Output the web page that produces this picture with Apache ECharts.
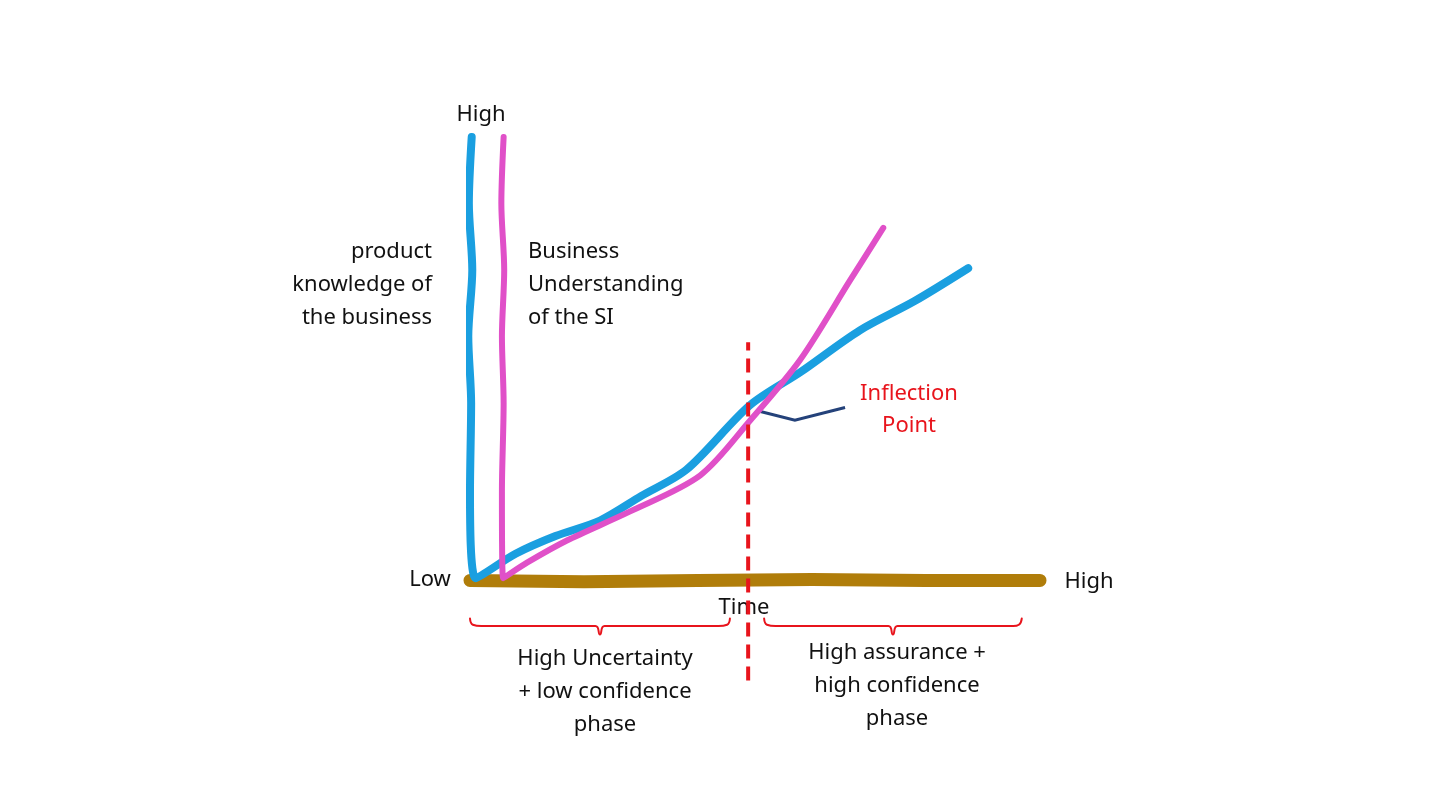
<!DOCTYPE html>
<html><head><meta charset="utf-8">
<script src="https://cdn.jsdelivr.net/npm/echarts@6/dist/echarts.min.js"></script>
<style>html,body{margin:0;background:#fff}#c{width:1440px;height:800px}</style>
</head><body><div id="c"></div>
<script>
// data coordinates: x = time (0..100), y = level (0..100)
const blueX = [0.3, -0.2, 0.4, -0.3, 0.2, 0, 1, 8, 15, 22.8, 30, 38, 49.1, 58, 68.4, 78, 87.4];
const blueY = [100, 85, 70, 55, 40, 20, 0.5, 6, 10, 13.5, 19, 25, 39.5, 47, 56.4, 63, 70.4];
const pinkX = [5.9, 5.5, 6.0, 5.6, 5.9, 5.6, 5.8, 10, 17, 28, 40.4, 49.1, 57.9, 66.7, 72.5];
const pinkY = [100, 85, 70, 55, 40, 20, 0.5, 4, 9, 15.5, 23.7, 36, 49.7, 67.7, 79.5];
const baseX = [0, 20, 40, 60, 80, 100];
const baseY = [0, -0.3, 0, 0.2, 0, 0];
const dashX = [48.8, 48.8];
const dashY = [-22.6, 53.7];
const braceLX = [0, 0.5, 2, 22, 22.8, 23.6, 43.6, 45.1, 45.6];
const braceLY = [-8.6, -10, -10.3, -10.3, -12.2, -10.3, -10.3, -10, -8.6];
const braceRX = [51.6, 52.1, 53.6, 73.4, 74.2, 75, 95.3, 96.3, 96.8];
const braceRY = braceLY;
const arrowPts = [[65.8, 39], [57.0, 36.1], [50.6, 38.2]];

const pair = (xs, ys) => xs.map((x, i) => [x, ys[i]]);
const hand = 'Comic Sans MS, "Noto Sans", sans-serif';
const line = (data, color, width, extra) => Object.assign({
  type: 'line', data, showSymbol: false, smooth: 0.3, silent: true,
  lineStyle: { color, width, cap: 'round', join: 'round' }
}, extra || {});

const chart = echarts.init(document.getElementById('c'));
const T = (x, y, text, opt) => Object.assign({
  type: 'text', x, y, style: Object.assign({ text, font: '22px ' + hand, fill: '#111', textAlign: 'center', lineHeight: 33 }, opt || {})
});
chart.setOption({
  animation: false,
  grid: { left: 470, right: 400, top: 137, bottom: 60 },
  xAxis: { type: 'value', min: 0, max: 100, show: false },
  yAxis: { type: 'value', min: -36, max: 100, show: false },
  series: [
    line(pair(baseX, baseY), '#b07d0a', 13, { smooth: false }),
    line(pair(blueX, blueY), '#1a9fe0', 8),
    line(pair(pinkX, pinkY), '#e050c8', 6),
    line(pair(dashX, dashY), '#e8141c', 4, { smooth: false, lineStyle: { color: '#e8141c', width: 4, type: [14, 8] } }),
    line(pair(braceLX, braceLY), '#e8141c', 2, { smooth: 0.5 }),
    line(pair(braceRX, braceRY), '#e8141c', 2, { smooth: 0.5 }),
    { type: 'lines', coordinateSystem: 'cartesian2d', polyline: true, silent: true,
      symbol: ['none', 'arrow'], symbolSize: 10,
      lineStyle: { color: '#24427a', width: 3, opacity: 1 },
      data: [{ coords: arrowPts }] }
  ],
  graphic: [
    T(481, 98, 'High'),
    T(430, 563, 'Low'),
    T(1089, 565, 'High'),
    T(744, 591, 'Time'),
    T(432, 235, 'product\nknowledge of\nthe business', { textAlign: 'right' }),
    T(528, 235, 'Business\nUnderstanding\nof the SI', { textAlign: 'left' }),
    T(909, 378, 'Inflection\nPoint', { fill: '#e8141c', lineHeight: 32 }),
    T(605, 642, 'High Uncertainty\n+ low confidence\nphase'),
    T(897, 636, 'High assurance +\nhigh confidence\nphase')
  ]
});
</script></body></html>
